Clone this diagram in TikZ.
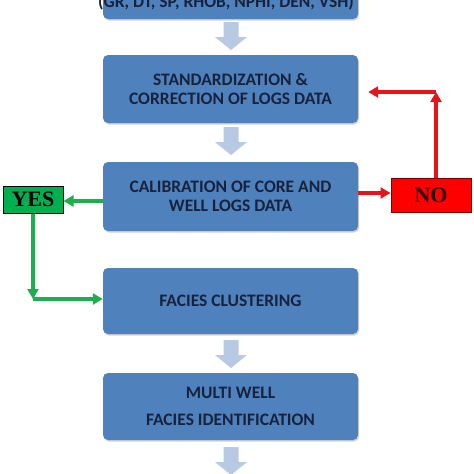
\documentclass[tikz,border=0pt]{standalone}
\usepackage{fontspec}
\newfontfamily\carl{Carlito}[Scale=1]
\newfontfamily\tnr{Liberation Serif}
\usetikzlibrary{arrows.meta,calc}
\definecolor{boxblue}{HTML}{4F81BD}
\definecolor{boxtext}{HTML}{17233D}
\definecolor{arrfill}{HTML}{B8C9E3}
\definecolor{yesgreen}{HTML}{00B050}
\definecolor{greenline}{HTML}{1DAE4E}
\definecolor{nored}{HTML}{FF0000}
\definecolor{redline}{HTML}{E8141B}
\tikzset{
  boxfont/.style={font=\carl\bfseries\fontsize{17.5}{19.5}\selectfont},
  flowbox/.style={rounded corners=5pt, fill=boxblue, minimum width=255pt, text=boxtext,
    boxfont, align=center, inner sep=0pt,
    preaction={fill=black!18, transform canvas={xshift=1pt,yshift=-1.5pt}}},
  yesbox/.style={fill=yesgreen, draw=black, line width=1pt, minimum width=60pt, minimum height=27pt,
    inner sep=0pt, font=\tnr\bfseries\fontsize{22}{22}\selectfont},
  nobox/.style={fill=nored, draw=red!50!black, line width=1pt, minimum width=80pt, minimum height=34pt,
    inner sep=0pt, font=\tnr\bfseries\fontsize{22}{22}\selectfont, text=black!85!red},
  gline/.style={draw=greenline, line width=3.5pt, -{Triangle[length=10pt,width=11pt]}},
  rline/.style={draw=redline, line width=3.5pt, -{Triangle[length=10pt,width=11pt]}},
  blockarrow/.pic={\fill[arrfill] (-7.5,0) -- (7.5,0) -- (7.5,15) -- (16,15) -- (0,28) -- (-16,15) -- (-7.5,15) -- cycle;}
}
\begin{document}
\begin{tikzpicture}[x=1pt,y=-1pt]
\useasboundingbox (0,0) rectangle (474,474);
\clip (0,0) rectangle (474,474);
% boxes
\node[flowbox, minimum height=69pt] (b1) at (230.5,-15.5) {};
\node[text=boxtext, boxfont, anchor=base, inner sep=0pt] (t1) at (226,7) {(GR, DT, SP, RHOB, NPHI, DEN, VSH)};
\node[flowbox, minimum height=68pt] (b2) at (230.5,89) {STANDARDIZATION \&\\CORRECTION OF LOGS DATA};
\node[flowbox, minimum height=69pt] (b3) at (230.5,196.5) {CALIBRATION OF CORE AND\\WELL LOGS DATA};
\node[flowbox, minimum height=66pt] (b4) at (230.5,301) {FACIES CLUSTERING};
\node[flowbox, minimum height=67pt] (b5) at (230.5,406.5) {MULTI WELL\\[8pt]FACIES IDENTIFICATION};
% block arrows
\pic at (231,22) {blockarrow};
\pic at (231,127) {blockarrow};
\pic at (231,340) {blockarrow};
\pic at (231,447) {blockarrow};
% decision boxes
\node[yesbox] (yes) at (33,199.5) {YES};
\node[nobox] (no) at (431,195) {NO};
% green connectors
\coordinate (gc) at (yes.south |- 0,299);
\draw[gline] (b3.west |- 0,201) -- (yes.east |- 0,201);
\draw[gline] (gc) -- (b4.west |- gc);
\draw[gline] (yes.south) -- (gc);
% red connectors
\coordinate (rc) at (436,92);
\draw[rline] (b3.east |- 0,193) -- (no.west |- 0,193);
\draw[rline] (no.north -| rc) -- (rc);
\draw[rline, shorten >=10pt] (rc) -- (b2.east |- rc);
\end{tikzpicture}
\end{document}
